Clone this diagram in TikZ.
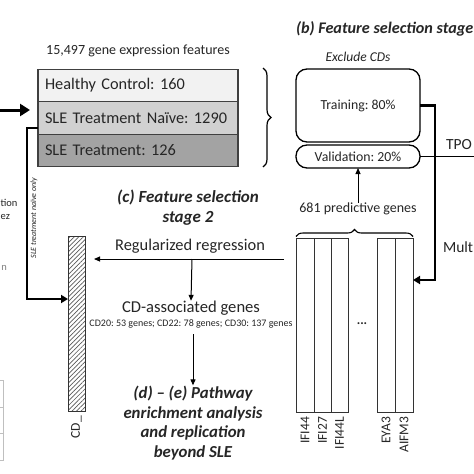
\documentclass[tikz,border=0pt]{standalone}
\usepackage{fontspec}
\setmainfont{Carlito}
\frenchspacing
\usetikzlibrary{arrows.meta,decorations.pathreplacing,patterns.meta,calc}
\begin{document}
\begin{tikzpicture}[x=1pt,y=-1pt,
  every node/.style={inner sep=0pt, outer sep=0pt, text=black!85},
  rowbox/.style={draw=black!75, line width=1.1pt, minimum height=32.5pt, text width=186pt, inner xsep=7pt, align=left, font=\fontsize{16.3}{18}\selectfont},
  roundbox/.style={draw=black, line width=1.3pt, minimum width=124pt, font=\fontsize{13.8}{15}\selectfont},
  genecol/.style={draw=black!80, line width=0.8pt, minimum height=174pt},
  genelab/.style={rotate=90, anchor=east, font=\fontsize{13.5}{14}\selectfont},
  ttl/.style={font=\fontsize{17}{20}\bfseries\itshape\selectfont, align=center},
  arr/.style={line width=1pt, -{Triangle[length=6pt,width=5pt]}},
  thickarr/.style={line width=2.4pt, -{Triangle[length=7pt,width=8pt]}},
]
\useasboundingbox (0,0) rectangle (474,474);
\fill[white] (0,0) rectangle (474,474);

% left fragments
\node[anchor=east, font=\fontsize{10.5}{12}\selectfont] (fragA) at (17.5,203) {tion};
\node[anchor=east, font=\fontsize{10.5}{12}\selectfont] (fragB) at (10,217) {ez};
\node[anchor=east, font=\fontsize{10.5}{12}\selectfont, text=black!50] (fragC) at (7,268) {n};
\foreach \ya/\yb in {380/407,407/433,433/460}{
  \draw[black!25, line width=0.8pt] (-6,\ya) rectangle (3,\yb);
}

% input arrow
\coordinate (inStart) at (-6,110);
\coordinate (inEnd) at (30,110);
\draw[line width=3pt, -{Triangle[length=10pt,width=12pt]}] (inStart) -- (inEnd);

% dataset stack
\node[font=\fontsize{14}{15}\selectfont] (feat) at (138,51) {15,497 gene expression features};
\node[rowbox, fill=black!5] (hc) at (138,85.5) {\mbox{Healthy Control: 160}};
\node[rowbox, fill=black!18] (naive) at (138,118) {\mbox{SLE Treatment Na\"ive: 1290}};
\node[rowbox, fill=black!36] (treat) at (138,150.5) {\mbox{SLE Treatment: 126}};

% brace
\draw[line width=1.2pt, decorate, decoration={brace, amplitude=8pt}] (263,68) -- (263,167);

% stage 1
\node[ttl, font=\fontsize{16.2}{20}\bfseries\itshape\selectfont, anchor=west] (stage1) at (296,29) {(b) Feature selection stage};
\node[font=\fontsize{13.5}{14}\itshape\selectfont] (excl) at (358,57) {Exclude CDs};
\node[roundbox, minimum height=73pt, rounded corners=11pt] (train) at (358,105.5) {Training: 80\%};
\node[roundbox, minimum height=23pt, rounded corners=11pt] (val) at (358,156.5) {Validation: 20\%};
\node[font=\fontsize{15.5}{17}\selectfont, anchor=west] (tpot) at (446,145) {TPO};
\node[font=\fontsize{15.5}{17}\selectfont, anchor=west] (multi) at (443,247) {Mult};
\node[font=\fontsize{14}{15}\selectfont] (g681) at (358,209) {681 predictive genes};
\draw[arr] (g681.north) -- (val.south);

% gene columns
\node[genecol, minimum width=18pt] (c1) at (305,325) {};
\node[genecol, minimum width=17pt] (c2) at (322.5,325) {};
\node[genecol, minimum width=17pt] (c3) at (339.5,325) {};
\node[genecol, minimum width=18pt] (c4) at (386,325) {};
\node[genecol, minimum width=18pt] (c5) at (404,325) {};
\node[font=\fontsize{13}{15}\bfseries\selectfont] (dots) at (362,324) {...};
\draw[line width=1.1pt, decorate, decoration={brace, amplitude=7pt}] (296,236.5) -- (413,236.5);
\node[genelab] (l1) at ($(c1.south)+(0,5)$) {IFI44};
\node[genelab] (l2) at ($(c2.south)+(0,5)$) {IFI27};
\node[genelab] (l3) at ($(c3.south)+(0,5)$) {IFI44L};
\node[genelab] (l4) at ($(c4.south)+(0,5)$) {EYA3};
\node[genelab] (l5) at ($(c5.south)+(0,5)$) {AIFM3};

% training -> columns
\coordinate (bendR) at (435,280);
\draw[thickarr] (train.east) -| (bendR) -- (c5.east |- bendR);
\coordinate (tpotEnd) at (480,156.5);
\draw[line width=1.8pt] (val.east) -- (tpotEnd);

% stage 2
\node[ttl] (stage2) at (188,208) {(c) Feature selection\\stage 2};
\node[font=\fontsize{16.4}{18}\selectfont] (reg) at (190,246) {Regularized regression};
\node[draw=black!80, line width=0.9pt, minimum width=17pt, minimum height=175pt,
      pattern={Lines[angle=45,distance=3.2pt,line width=0.7pt]}, pattern color=black!65] (cd) at (76.5,323.5) {};
\node[genelab, font=\fontsize{13.5}{15}\selectfont] (cdlab) at ($(cd.south)+(0,5)$) {CD\_};
\coordinate (regR) at (284,259);
\draw[line width=1pt, -{Triangle[length=6pt,width=5pt]}, shorten >=9pt] (regR) -- (cd.east |- regR);
\coordinate (regMid) at (192,259);
\node[font=\fontsize{16.6}{18}\selectfont] (cdassoc) at (191,308) {CD-associated genes};
\node[font=\fontsize{10}{11}\selectfont] (cdcount) at (191,324) {CD20: 53 genes; CD22: 78 genes; CD30: 137 genes};
\draw[arr] (regMid) -- (cdassoc.north);
\node[ttl, font=\fontsize{16.8}{19.4}\bfseries\itshape\selectfont] (path) at (193,423) {(d) -- (e) Pathway\\enrichment analysis\\and replication\\beyond SLE};
\draw[arr] ($(cdcount.south)+(2,6)$) -- ($(path.north)+(0,-1)$);

% naive-only path
\coordinate (nvStart) at ($(naive.west)+(0,10)$);
\coordinate (nvCorner) at (27,299);
\draw[thickarr] (nvStart) -| (nvCorner) -- (cd.west |- nvCorner);
\node[rotate=90, font=\fontsize{8}{9}\itshape\selectfont] (nvlab) at (34,218) {SLE treatment na\"ive only};
\end{tikzpicture}
\end{document}
